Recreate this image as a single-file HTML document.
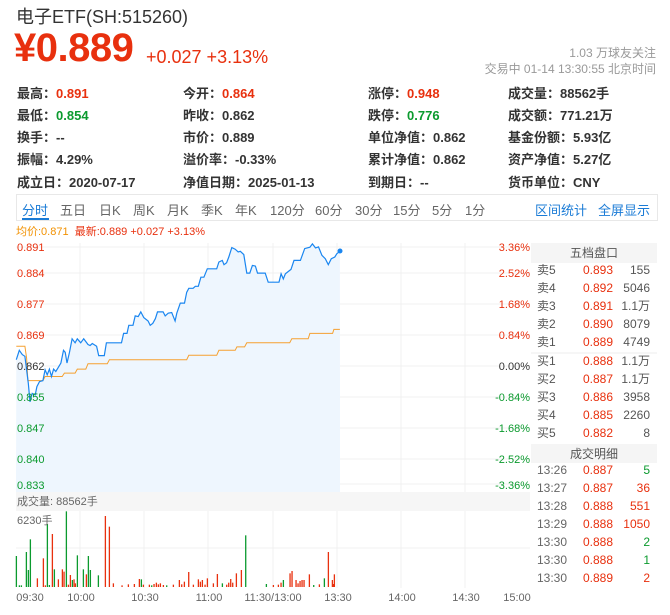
<!DOCTYPE html>
<html><head><meta charset="utf-8"><style>
*{margin:0;padding:0;box-sizing:border-box}
body{width:670px;height:615px;background:#fff;font-family:"Liberation Sans","Noto Sans CJK SC",sans-serif;color:#333;position:relative;overflow:hidden}
.a{position:absolute;white-space:nowrap}
.r{color:#e8300e}.g{color:#0b9a2e}
.st{font-size:13px;font-weight:bold}
.tab{font-size:13px;color:#666;top:200px}
</style></head><body>
<div class="a" style="left:16px;top:3px;font-size:18px;color:#333">电子ETF(SH:515260)</div>
<div class="a r" style="left:14px;top:26px;font-size:40px;font-weight:bold;letter-spacing:-0.5px">¥0.889</div>
<div class="a r" style="left:146px;top:47px;font-size:18px">+0.027 +3.13%</div>
<div class="a" style="right:14px;top:44px;font-size:12px;color:#999">1.03 万球友关注</div>
<div class="a" style="right:14px;top:60px;font-size:12px;color:#999">交易中 01-14 13:30:55 北京时间</div>

<div class="a st" style="left:17px;top:83px">最高：<span class="r">0.891</span></div>
<div class="a st" style="left:17px;top:105px">最低：<span class="g">0.854</span></div>
<div class="a st" style="left:17px;top:127px">换手：--</div>
<div class="a st" style="left:17px;top:149px">振幅：4.29%</div>
<div class="a st" style="left:17px;top:172px">成立日：2020-07-17</div>
<div class="a st" style="left:183px;top:83px">今开：<span class="r">0.864</span></div>
<div class="a st" style="left:183px;top:105px">昨收：0.862</div>
<div class="a st" style="left:183px;top:127px">市价：0.889</div>
<div class="a st" style="left:183px;top:149px">溢价率：-0.33%</div>
<div class="a st" style="left:183px;top:172px">净值日期：2025-01-13</div>
<div class="a st" style="left:368px;top:83px">涨停：<span class="r">0.948</span></div>
<div class="a st" style="left:368px;top:105px">跌停：<span class="g">0.776</span></div>
<div class="a st" style="left:368px;top:127px">单位净值：0.862</div>
<div class="a st" style="left:368px;top:149px">累计净值：0.862</div>
<div class="a st" style="left:368px;top:172px">到期日：--</div>
<div class="a st" style="left:508px;top:83px">成交量：88562手</div>
<div class="a st" style="left:508px;top:105px">成交额：771.21万</div>
<div class="a st" style="left:508px;top:127px">基金份额：5.93亿</div>
<div class="a st" style="left:508px;top:149px">资产净值：5.27亿</div>
<div class="a st" style="left:508px;top:172px">货币单位：CNY</div>

<div class="a" style="left:16px;top:194px;width:642px;height:27px;border:1px solid #e8e8e8"></div>
<div class="a" style="left:22px;top:218px;width:27px;height:2px;background:#1a7bd6"></div>
<div class="a tab" style="left:22px;color:#1a7bd6">分时</div>
<div class="a tab" style="left:60px">五日</div>
<div class="a tab" style="left:99px">日K</div>
<div class="a tab" style="left:133px">周K</div>
<div class="a tab" style="left:167px">月K</div>
<div class="a tab" style="left:201px">季K</div>
<div class="a tab" style="left:235px">年K</div>
<div class="a tab" style="left:270px">120分</div>
<div class="a tab" style="left:315px">60分</div>
<div class="a tab" style="left:355px">30分</div>
<div class="a tab" style="left:393px">15分</div>
<div class="a tab" style="left:432px">5分</div>
<div class="a tab" style="left:465px">1分</div>
<div class="a tab" style="left:535px;color:#1a7bd6">区间统计</div>
<div class="a tab" style="left:598px;color:#1a7bd6">全屏显示</div>

<div class="a" style="left:16px;top:223px;font-size:11px"><span style="color:#f29100">均价:0.871</span>&nbsp; <span class="r">最新:0.889 +0.027 +3.13%</span></div>

<svg class="a" style="left:0;top:0" width="670" height="615" id="s">
<g id="grid" stroke="#f0f0f0" stroke-width="1"></g>
<rect x="16" y="492" width="514" height="19" fill="#f6f6f6"/>
<path id="fill" fill="#eef6fe"/>
<polyline id="avg" fill="none" stroke="#f5a030" stroke-width="1"/>
<polyline id="blue" fill="none" stroke="#1a86f0" stroke-width="1.2"/>
<circle cx="340" cy="251" r="2.5" fill="#1a86f0"/>
<g id="vol"></g>
<g font-size="11" font-family="Liberation Sans,sans-serif">
<text x="17" y="251" fill="#e8300e">0.891</text><text x="17" y="277" fill="#e8300e">0.884</text>
<text x="17" y="308" fill="#e8300e">0.877</text><text x="17" y="339" fill="#e8300e">0.869</text>
<text x="17" y="370" fill="#333">0.862</text><text x="17" y="401" fill="#0b9a2e">0.855</text>
<text x="17" y="432" fill="#0b9a2e">0.847</text><text x="17" y="463" fill="#0b9a2e">0.840</text>
<text x="17" y="489" fill="#0b9a2e">0.833</text>
<g text-anchor="end"><text x="530" y="251" fill="#e8300e">3.36%</text><text x="530" y="277" fill="#e8300e">2.52%</text>
<text x="530" y="308" fill="#e8300e">1.68%</text><text x="530" y="339" fill="#e8300e">0.84%</text>
<text x="530" y="370" fill="#333">0.00%</text><text x="530" y="401" fill="#0b9a2e">-0.84%</text>
<text x="530" y="432" fill="#0b9a2e">-1.68%</text><text x="530" y="463" fill="#0b9a2e">-2.52%</text>
<text x="530" y="489" fill="#0b9a2e">-3.36%</text></g>
<text x="17" y="505" fill="#666">成交量: 88562手</text>
<text x="17" y="524" fill="#666">6230手</text>
<g fill="#666" text-anchor="middle"><text x="30" y="601">09:30</text><text x="81" y="601">10:00</text><text x="145" y="601">10:30</text>
<text x="209" y="601">11:00</text><text x="273" y="601">11:30/13:00</text><text x="338" y="601">13:30</text>
<text x="402" y="601">14:00</text><text x="466" y="601">14:30</text><text x="517" y="601">15:00</text></g>
</g>
<rect x="531" y="243" width="126" height="20" fill="#f5f5f5"/>
<rect x="531" y="444" width="126" height="19" fill="#f5f5f5"/>
<line x1="531" y1="353" x2="657" y2="353" stroke="#eee"/>
<g id="rp" font-size="12" font-family="Liberation Sans,Noto Sans CJK SC,sans-serif"></g>
</svg>
<script>
var s='http://www.w3.org/2000/svg';
function el(p,t,a){var e=document.createElementNS(s,t);for(var k in a)e.setAttribute(k,a[k]);p.appendChild(e);return e;}
var g=document.getElementById('grid');
[247,273,304,335,366,397,428,459,484,548].forEach(function(y){el(g,'line',{x1:16,x2:530,y1:y,y2:y});});
[80,144,208,273,337,401,465].forEach(function(x){el(g,'line',{x1:x,x2:x,y1:243,y2:588});});
function cv(a){var r=[];for(var i=0;i<a.length;i+=2)r.push((a[i]/2.33).toFixed(1)+','+(a[i+1]/2.97+225).toFixed(1));return r;}
var B=[38,400,45,372,52,385,58,390,62,430,66,470,70,525,75,500,82,505,86,480,92,465,100,462,105,430,110,445,115,428,120,450,125,428,130,435,135,425,142,410,148,372,152,378,156,410,162,378,168,338,175,350,180,338,188,350,195,338,205,355,210,358,215,352,225,360,230,388,243,388,248,350,270,350,283,350,288,322,296,322,300,298,310,298,315,270,322,272,328,258,335,275,345,285,350,298,356,292,362,278,367,258,380,258,385,270,392,262,400,260,408,285,412,262,420,232,430,232,435,200,440,188,450,188,455,182,462,182,468,155,475,155,483,130,505,130,510,110,518,105,522,118,528,112,533,95,540,67,548,72,555,80,560,78,568,88,575,143,582,143,588,120,595,122,600,143,618,143,625,170,650,170,655,145,660,160,665,145,678,132,685,105,700,105,710,70,722,66,728,56,735,68,742,65,750,90,758,100,765,118,772,100,780,95,785,85,792,78];
var bp=cv(B);document.getElementById('blue').setAttribute('points',bp.join(' '));
document.getElementById('fill').setAttribute('d','M16,492 L'+bp.join(' L')+' L340,492 Z');
var A=[38,360,58,360,62,395,65,462,100,462,105,450,145,450,150,440,175,440,180,428,200,428,205,412,250,412,255,400,435,400,440,387,505,387,510,372,548,372,552,362,570,362,575,350,675,350,680,338,718,338,722,322,775,322,778,310,792,310];
document.getElementById('avg').setAttribute('points',cv(A).join(' '));
var v=document.getElementById('vol');
var G=[49,228,79,216,85,270,91,178,142,132,163,268,199,94,217,300,232,226,250,268,265,228,271,270,295,286,424,298,737,166,667,310,850,300,973,295,799,312,941,315,58,316,64,316,148,315,455,316,500,316];
var R=[112,295,130,235,157,162,175,298,187,268,192,275,211,285,222,298,226,310,259,283,316,108,328,140,340,310,385,313,403,312,418,297,469,308,481,310,538,300,553,305,566,276,595,298,601,305,607,300,622,295,640,310,652,282,686,308,692,297,698,308,709,280,724,270,843,308,870,280,876,273,888,300,894,310,900,303,906,300,912,300,928,283,958,313,985,216,997,300,1003,283,136,316,205,314,366,316,430,314,448,314,462,312,475,313,490,315,520,314,545,313,580,314,615,314,680,314,820,315,835,314,1000,312];
function bars(a,c){for(var i=0;i<a.length;i+=2){var x=a[i]/3,y=480+a[i+1]/3;el(v,'rect',{x:x-0.6,y:y,width:1.3,height:587-y,fill:c});}}
bars(G,'#0b9a2e');bars(R,'#e8300e');
var rp=document.getElementById('rp');
function t(x,y,txt,c,an){var e=el(rp,'text',{x:x,y:y,fill:c,'text-anchor':an||'start'});e.textContent=txt;}
t(594,257,'五档盘口','#555','middle');t(594,458,'成交明细','#555','middle');
var q=[['卖5','0.893','155'],['卖4','0.892','5046'],['卖3','0.891','1.1万'],['卖2','0.890','8079'],['卖1','0.889','4749'],['买1','0.888','1.1万'],['买2','0.887','1.1万'],['买3','0.886','3958'],['买4','0.885','2260'],['买5','0.882','8']];
var qy=[274,292,310,328,346,365,383,401,419,437];
q.forEach(function(r,i){t(537,qy[i],r[0],'#555');t(583,qy[i],r[1],'#e8300e');t(650,qy[i],r[2],'#555','end');});
var d=[['13:26','0.887','5','#0b9a2e'],['13:27','0.887','36','#e8300e'],['13:28','0.888','551','#e8300e'],['13:29','0.888','1050','#e8300e'],['13:30','0.888','2','#0b9a2e'],['13:30','0.888','1','#0b9a2e'],['13:30','0.889','2','#e8300e']];
d.forEach(function(r,i){var y=474+i*18;t(537,y,r[0],'#666');t(583,y,r[1],'#e8300e');t(650,y,r[2],r[3],'end');});
</script>
</body></html>
